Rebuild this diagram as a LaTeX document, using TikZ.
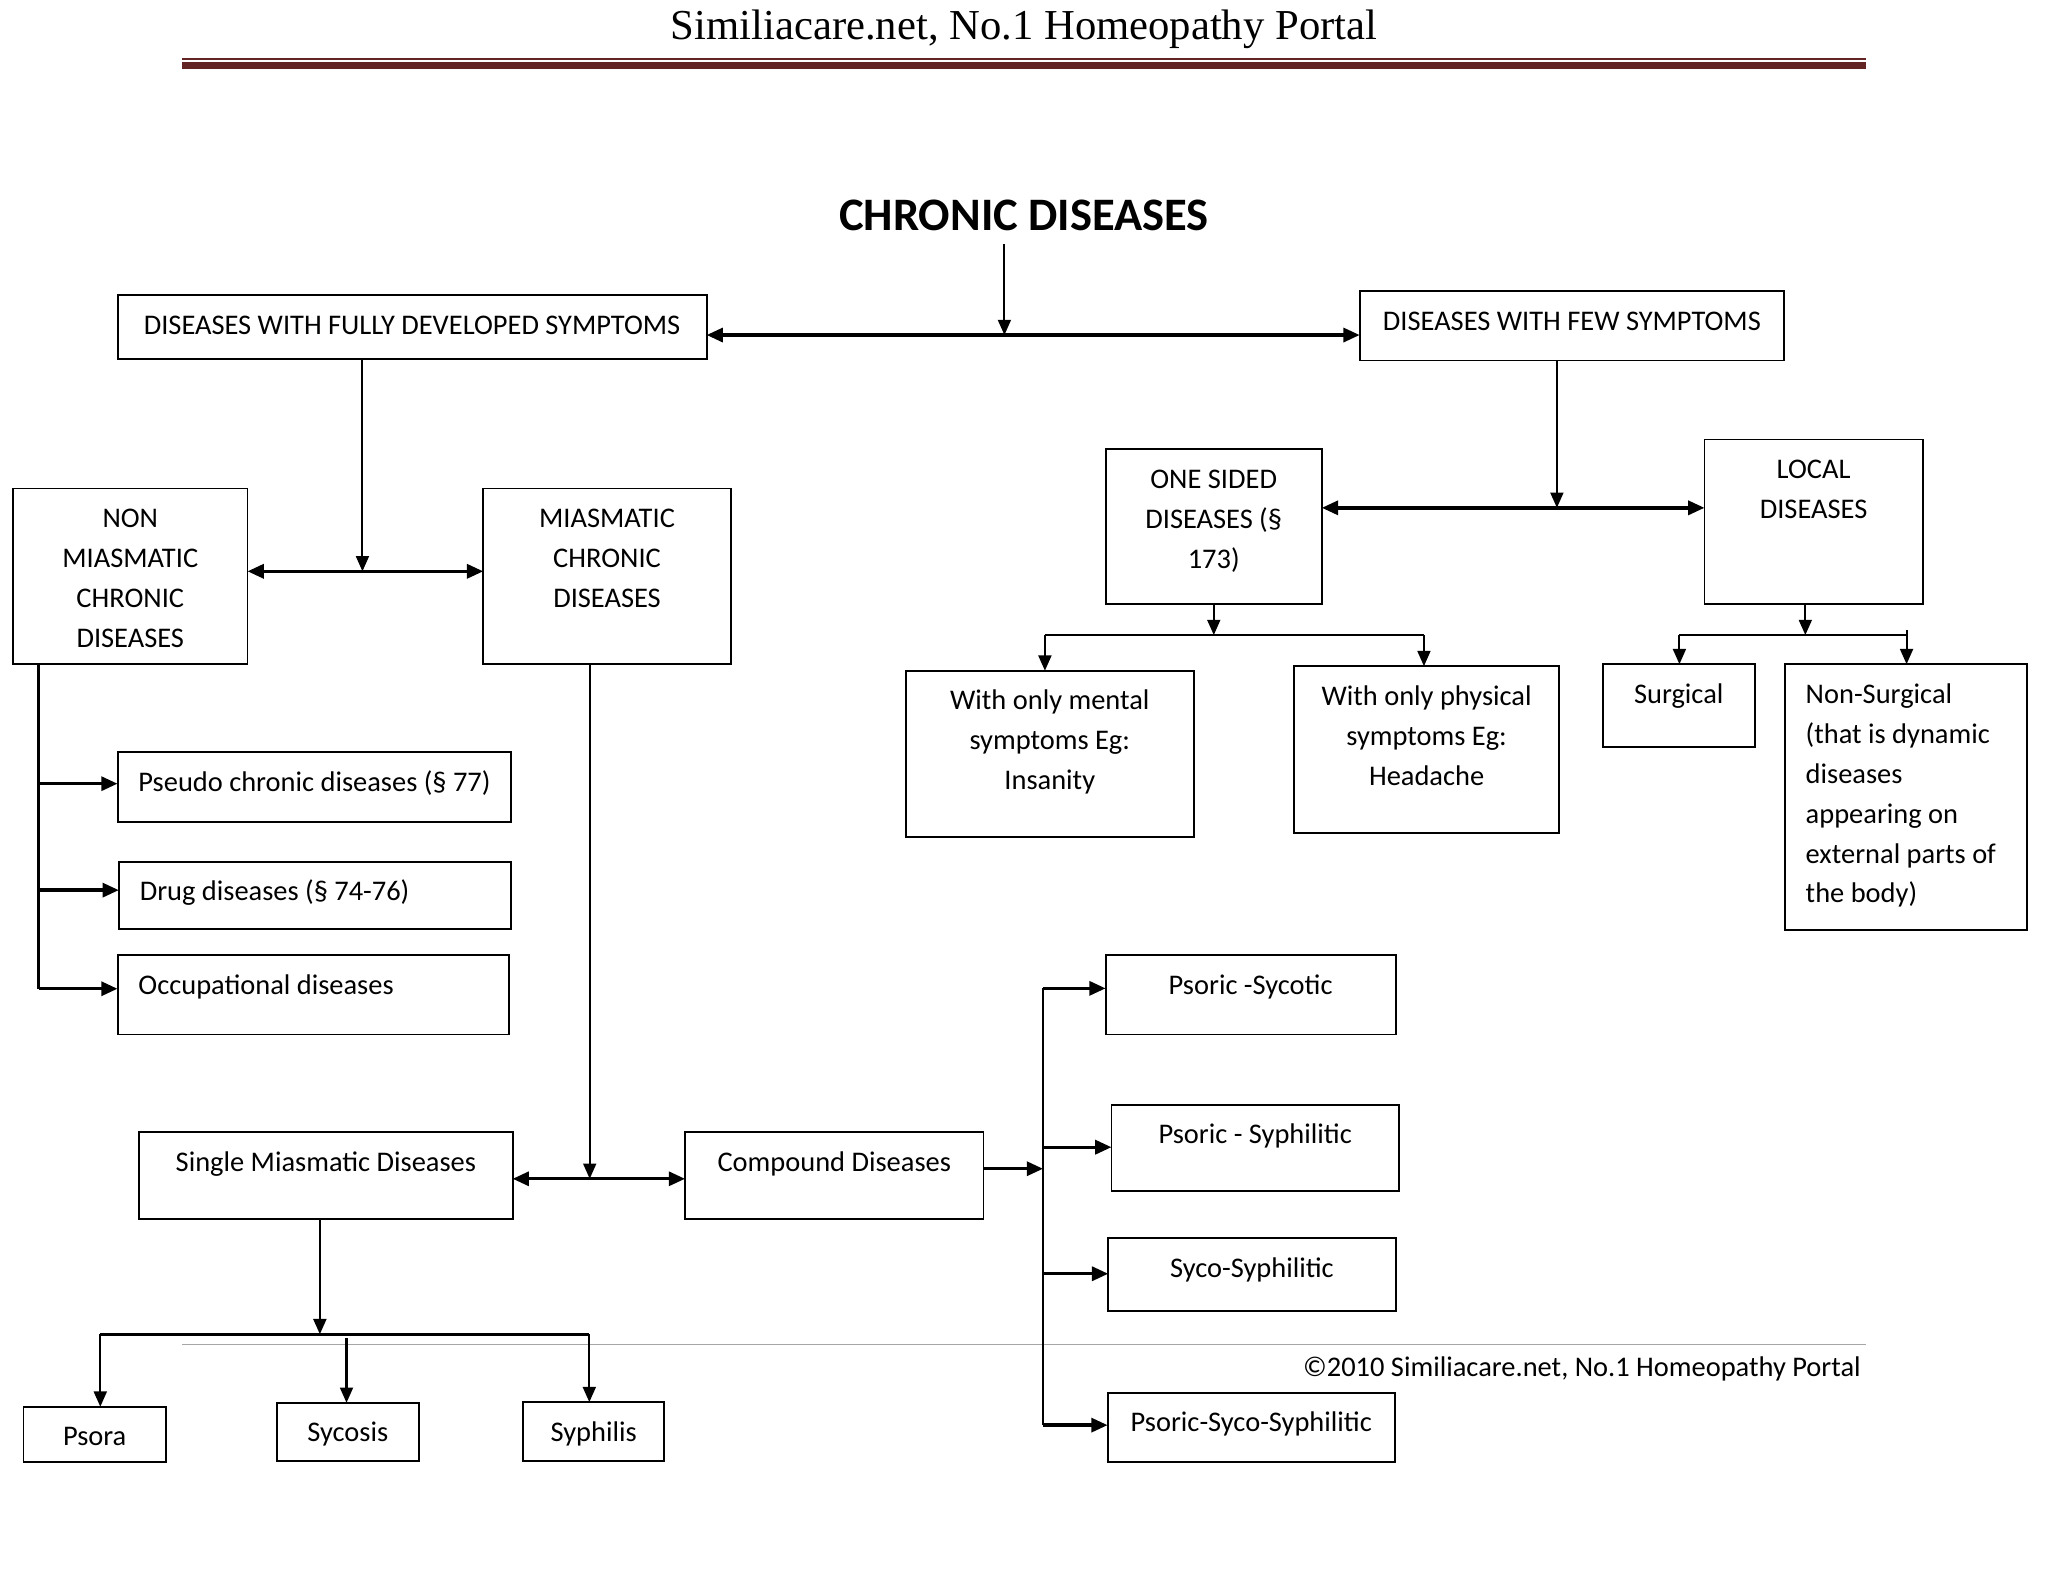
\documentclass[tikz,border=0pt]{standalone}
\usepackage{fontspec}
\setmainfont{Carlito}
\newfontfamily\hdrfont{Liberation Serif}
\usetikzlibrary{arrows.meta,calc}
\definecolor{hdrred}{HTML}{632523}
\definecolor{ftrgray}{HTML}{A6A6A6}
\tikzset{
  bx/.style={draw, line width=0.75pt, inner sep=0pt, outer sep=0pt, anchor=north west},
  txt/.style={inner sep=0pt, outer sep=0pt, font=\fontsize{11}{15.46}\selectfont},
  thinln/.style={line width=0.8pt},
  medln/.style={line width=1pt},
  thkln/.style={line width=1.3pt},
  arr/.style={-{Triangle[length=5.9pt,width=5pt]}},
  tarr/.style={-{Triangle[length=6.3pt,width=5.4pt]}},
  darr/.style={{Triangle[length=6.3pt,width=5.4pt]}-{Triangle[length=6.3pt,width=5.4pt]}},
}
% centred text box: name, x1, y1, x2, y2, text
\newcommand\cbox[6]{%
  \pgfmathsetlengthmacro\bw{(#4-#2)*0.5051pt}%
  \pgfmathsetlengthmacro\bh{(#5-#3)*0.5051pt}%
  \pgfmathsetlengthmacro\tw{(#4-#2-20)*0.5051pt}%
  \node[bx, minimum width=\bw, minimum height=\bh] (#1) at (#2,#3) {};%
  \node[txt, anchor=base] (#1-t) at ({(#2+#4)/2},{#3+29.8}) {\parbox[t]{\tw}{\centering #6}};%
}
% left aligned text box
\newcommand\lbox[6]{%
  \pgfmathsetlengthmacro\bw{(#4-#2)*0.5051pt}%
  \pgfmathsetlengthmacro\bh{(#5-#3)*0.5051pt}%
  \pgfmathsetlengthmacro\tw{(#4-#2-25)*0.5051pt}%
  \node[bx, minimum width=\bw, minimum height=\bh] (#1) at (#2,#3) {};%
  \node[txt, anchor=base west] (#1-t) at ({#2+16},{#3+29.8}) {\parbox[t]{\tw}{\raggedright #6}};%
}
\begin{document}
\begin{tikzpicture}[x=0.5051pt, y=-0.5051pt]
\useasboundingbox (0,0) rectangle (1568,1211.2);
\fill[white] (0,0) rectangle (1568,1211.2);

% header
\node[anchor=base, inner sep=0pt, font=\hdrfont\fontsize{16.5}{20}\selectfont] (hdr) at (784,29.9) {Similiacare.net, No.1 Homeopathy Portal};
\draw[hdrred, line width=0.55pt] (139.4,45.2) -- (1429,45.2);
\draw[hdrred, line width=2.7pt] (139.4,50.2) -- (1429,50.2);

% footer
\draw[ftrgray, line width=0.6pt] (139.5,1029.3) -- (1428.5,1029.3);
\node[anchor=base east, inner sep=0pt, font=\fontsize{11}{13}\selectfont] (ftr) at (1425,1054) {©2010 Similiacare.net, No.1 Homeopathy Portal};

% title
\node[anchor=base, inner xsep=0pt, inner ysep=5pt, font=\bfseries\fontsize{18}{22}\selectfont] (title) at (784,176.5) {CHRONIC DISEASES};

% boxes
\cbox{A}{90}{226}{541}{275}{DISEASES WITH FULLY DEVELOPED SYMPTOMS}
\cbox{B}{1041}{223}{1366}{276}{DISEASES WITH FEW SYMPTOMS}
\cbox{NON}{10}{374}{189.5}{508.5}{NON\\MIASMATIC\\CHRONIC\\DISEASES}
\cbox{MIA}{370}{374}{559.5}{508.5}{MIASMATIC\\CHRONIC\\DISEASES}
\cbox{ONE}{846.5}{344}{1012}{462.5}{ONE SIDED\\DISEASES (§\\173)}
\cbox{LOC}{1305}{336.5}{1472}{462.5}{LOCAL\\DISEASES}
\cbox{MEN}{693.5}{513.5}{914}{641}{With only mental\\symptoms Eg:\\Insanity}
\cbox{PHY}{991}{510}{1193.5}{637.5}{With only physical\\symptoms Eg:\\Headache}
\cbox{SUR}{1227}{508.5}{1343.5}{572}{Surgical}
\lbox{NSU}{1366.5}{508.5}{1552}{712}{Non-Surgical\\(that is dynamic\\diseases\\appearing on\\external parts of\\the body)}
\lbox{PSE}{90}{576}{391}{629}{Pseudo chronic diseases (§ 77)}
\lbox{DRU}{91}{660}{391}{711.5}{Drug diseases (§ 74-76)}
\lbox{OCC}{90}{731.5}{390}{792}{Occupational diseases}
\cbox{SIN}{106.5}{867}{392.5}{933.5}{Single Miasmatic Diseases}
\cbox{COM}{524.5}{867}{753}{933.5}{Compound Diseases}
\cbox{PSY}{846.5}{731.5}{1068.5}{792}{Psoric -Sycotic}
\cbox{PSP}{851}{846}{1071}{912}{Psoric - Syphilitic}
\cbox{SSY}{848.5}{948}{1068.5}{1004}{Syco-Syphilitic}
\cbox{PSS}{848}{1066.5}{1068}{1119}{Psoric-Syco-Syphilitic}
\cbox{PSO}{18}{1077}{127}{1119.5}{Psora}
\cbox{SYC}{212}{1074}{320.5}{1118.5}{Sycosis}
\cbox{SYP}{400.5}{1073.5}{508.5}{1118.5}{Syphilis}

% junction coordinates
\coordinate (j1) at (769,256.5);
\coordinate (j2) at (277.5,437.4);
\coordinate (j3) at (1192,388.8);
\coordinate (n0) at (29.5,757);
\coordinate (n1) at (29.5,600);
\coordinate (n2) at (29.5,681.5);
\coordinate (j4) at (451.5,902.5);
\coordinate (j5) at (798.6,894.8);
\coordinate (v1) at (798.6,756.7);
\coordinate (v2) at (798.6,878.3);
\coordinate (v3) at (798.6,975.2);
\coordinate (v4) at (798.6,1091.1);
\coordinate (j6) at (929.3,486.2);
\coordinate (k1) at (800,486.2);
\coordinate (k2) at (1090.2,486.2);
\coordinate (j7) at (1382.2,486.2);
\coordinate (k3) at (1285.8,486.2);
\coordinate (k4) at (1459.7,486.2);
\coordinate (k4a) at (1459.7,482.6);
\coordinate (j8) at (244.9,1021.5);
\coordinate (k5) at (76.8,1021.5);
\coordinate (k6) at (451.2,1021.5);
\coordinate (k7) at (265.3,1024.2);

% connectors
\draw[thinln, arr] (j1 |- title.south) -- (j1);
\draw[thkln, darr] (A.east |- j1) -- (B.west |- j1);

\draw[thinln, arr] (A.south -| j2) -- (j2);
\draw[thkln, darr] (NON.east |- j2) -- (MIA.west |- j2);

\draw[thinln, arr] (B.south -| j3) -- (j3);
\draw[thkln, darr] (ONE.east |- j3) -- (LOC.west |- j3);

\draw[thinln] (NON.south -| n0) -- (n0);
\draw[thkln, tarr] (n1) -- (PSE.west |- n1);
\draw[thkln, tarr] (n2) -- (DRU.west |- n2);
\draw[thkln, tarr] (n0) -- (OCC.west |- n0);

\draw[thinln, arr] (MIA.south -| j4) -- (j4);
\draw[thkln, darr] (SIN.east |- j4) -- (COM.west |- j4);
\draw[thkln, tarr] (COM.east |- j5) -- (j5);
\draw[thinln] (v1) -- (v4);
\draw[thkln, tarr] (v1) -- (PSY.west |- v1);
\draw[thkln, tarr] (v2) -- (PSP.west |- v2);
\draw[thkln, tarr] (v3) -- (SSY.west |- v3);
\draw[thkln, tarr] (v4) -- (PSS.west |- v4);

\draw[thinln, arr] (ONE.south -| j6) -- (j6);
\draw[medln] (k1) -- (k2);
\draw[thinln, arr] (k1) -- (MEN.north -| k1);
\draw[thinln, arr] (k2) -- (PHY.north -| k2);

\draw[thinln, arr] (LOC.south -| j7) -- (j7);
\draw[medln] (k3) -- (k4);
\draw[thinln, arr] (k3) -- (SUR.north -| k3);
\draw[thinln, arr] (k4a) -- (NSU.north -| k4);

\draw[thinln, arr] (SIN.south -| j8) -- (j8);
\draw[medln] (k5) -- (k6);
\draw[thinln, arr] (k5) -- (PSO.north -| k5);
\draw[thinln, arr] (k7) -- (SYC.north -| k7);
\draw[thinln, arr] (k6) -- (SYP.north -| k6);
\end{tikzpicture}
\end{document}
